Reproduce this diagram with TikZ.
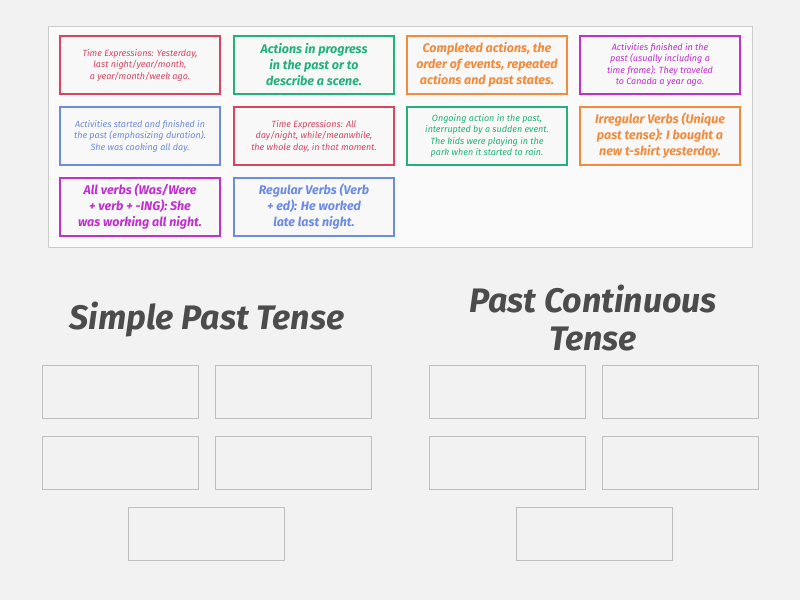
\documentclass[tikz,border=0pt]{standalone}
\usepackage{fontspec}
\setmainfont{Fira Sans}
\usetikzlibrary{positioning}
\definecolor{cred}{HTML}{D9455F}
\definecolor{cgreen}{HTML}{20B27A}
\definecolor{corange}{HTML}{F28B3C}
\definecolor{cpurple}{HTML}{BF30CF}
\definecolor{cblue}{HTML}{6C8BE3}
\definecolor{bg}{HTML}{F2F2F2}
\begin{document}
\begin{tikzpicture}[
			     x=1pt, y=-1pt,
			     card/.style={draw=#1, text=#1, line width=2.4pt, fill=white!50!bg, minimum width=160pt, minimum height=58pt, align=center, inner sep=2pt},
			     small/.style={font=\itshape\fontsize{9}{11.5}\selectfont},
			     big/.style={font=\bfseries\itshape\fontsize{12.5}{16}\selectfont},
			     slot/.style={draw=black!25, line width=0.8pt, fill=bg, minimum width=156pt, minimum height=53pt},
			     title/.style={text=black!70, font=\bfseries\itshape\fontsize{34}{38}\selectfont, align=center}
			     ]
\fill[bg] (0,0) rectangle (800,600);
\useasboundingbox (0,0) rectangle (800,600);
\draw[black!20, fill=white!60!bg, line width=1pt] (48,26) rectangle (752,247);
%
\node[card=cred, small] (c11) at (140,65) {Time Expressions: Yesterday,\\last night/year/month,\\a year/month/week ago.};
\node[card=cgreen, big] (c12) at (314,65) {Actions in progress\\in the past or to\\describe a scene.};
\node[card=corange, big] (c13) at (487,65) {Completed actions, the\\order of events, repeated\\actions and past states.};
\node[card=cpurple, small] (c14) at (660,65) {Activities finished in the\\past (usually including a\\time frame): They traveled\\to Canada a year ago.};
\node[card=cblue, small] (c21) at (140,136) {Activities started and finished in\\the past (emphasizing duration).\\She was cooking all day.};
\node[card=cred, small] (c22) at (314,136) {Time Expressions: All\\day/night, while/meanwhile,\\the whole day, in that moment.};
\node[card=cgreen, small] (c23) at (487,136) {Ongoing action in the past,\\interrupted by a sudden event.\\The kids were playing in the\\park when it started to rain.};
\node[card=corange, big] (c24) at (660,136) {Irregular Verbs (Unique\\past tense): I bought a\\new t-shirt yesterday.};
\node[card=cpurple, big] (c31) at (140,207) {All verbs (Was/Were\\+ verb + -ING): She\\was working all night.};
\node[card=cblue, big] (c32) at (314,207) {Regular Verbs (Verb\\+ ed): He worked\\late last night.};
%
\node[title] (t1) at (207,320) {Simple Past Tense};
\node[title] (t2) at (593,318) {Past Continuous\\Tense};
%
\node[slot] (s11) at (120,392) {};
\node[slot] (s12) at (293,392) {};
\node[slot] (s21) at (120,463) {};
\node[slot] (s22) at (293,463) {};
\node[slot] (s31) at (206,534) {};
\node[slot] (p11) at (507,392) {};
\node[slot] (p12) at (680,392) {};
\node[slot] (p21) at (507,463) {};
\node[slot] (p22) at (680,463) {};
\node[slot] (p31) at (594,534) {};
\end{tikzpicture}
\end{document}
